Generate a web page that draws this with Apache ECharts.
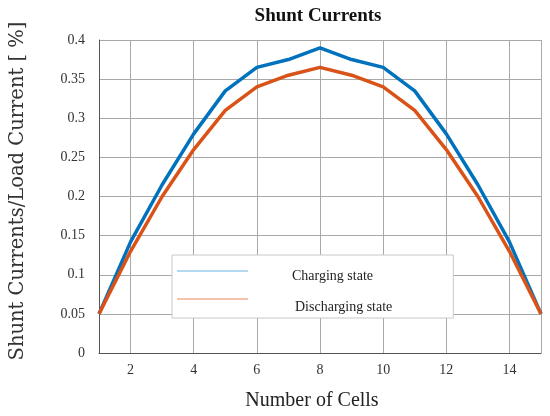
<!DOCTYPE html>
<html>
<head>
<meta charset="utf-8">
<script src="https://cdn.jsdelivr.net/npm/echarts@6/dist/echarts.min.js"></script>
<style>
  html, body { margin: 0; padding: 0; background: #fff; }
  #mainContent { width: 550px; height: 416px; }
</style>
</head>
<body>
<div id="mainContent"></div>
<script>
// data
var cells = ['1', '2', '3', '4', '5', '6', '7', '8', '9', '10', '11', '12', '13', '14', '15'];
var charging = [0.05, 0.142, 0.215, 0.28, 0.335, 0.365, 0.375, 0.39, 0.375, 0.365, 0.335, 0.28, 0.215, 0.142, 0.05];
var discharging = [0.05, 0.13, 0.2, 0.26, 0.31, 0.34, 0.355, 0.365, 0.355, 0.34, 0.31, 0.26, 0.2, 0.13, 0.05];
var yTicks = [0, 0.05, 0.1, 0.15, 0.2, 0.25, 0.3, 0.35, 0.4];

var serif = '"Liberation Serif", "DejaVu Serif", serif';

var myChart = echarts.init(document.getElementById('mainContent'));

// show label/grid only on even cells, plus the right border at 15
function evenCell(index, value) {
    return (+value) % 2 === 0;
}

// legend line sits a bit above its text, as in the original
var iconHigh = 'path://M0,0 M0,3L71,3L71,5L0,5Z M0,18';
var iconLow = 'path://M0,0L71,0L71,2L0,2Z M0,18';

option = {
    animation: false,
    title: {
        text: 'Shunt Currents',
        left: 313,
        top: 2,
        textAlign: 'center',
        textStyle: { fontFamily: serif, fontSize: 19, fontWeight: 'bold', color: '#111' }
    },
    grid: { left: 98, right: 9, top: 40, bottom: 61 },
    legend: {
        orient: 'vertical',
        left: 172,
        top: 255,
        padding: [12, 61, 2, 5],
        itemWidth: 71,
        itemHeight: 18,
        itemGap: 13,
        backgroundColor: '#fff',
        borderColor: '#c8c8c8',
        borderWidth: 1,
        borderRadius: 0,
        textStyle: { fontFamily: serif, fontSize: 14, color: '#222', padding: [0, 0, 0, 39] },
        data: [
            { name: 'Charging state', icon: iconHigh, itemStyle: { color: '#b3d9ee' } },
            { name: 'Discharging state', icon: iconLow, itemStyle: { color: '#f5c2ae' }, textStyle: { padding: [0, 0, 0, 42] } }
        ]
    },
    xAxis: {
        type: 'category',
        data: cells,
        boundaryGap: false,
        name: 'Number of Cells',
        nameLocation: 'middle',
        nameGap: 38,
        nameTextStyle: { fontFamily: serif, fontSize: 20, color: '#222', padding: [0, 16, 0, 0] },
        axisLine: { lineStyle: { color: '#555', width: 1 } },
        axisTick: { show: false },
        axisLabel: { interval: evenCell, fontFamily: serif, fontSize: 14, color: '#333', margin: 10 },
        splitLine: {
            show: true,
            interval: function (index, value) { return (+value) % 2 === 0 || value === '15'; },
            lineStyle: { color: '#a8a8a8', width: 1 }
        }
    },
    yAxis: {
        type: 'value',
        min: yTicks[0],
        max: yTicks[yTicks.length - 1],
        interval: 0.05,
        name: 'Shunt Currents/Load Current [ %]',
        nameLocation: 'middle',
        nameGap: 71,
        nameTextStyle: { fontFamily: '"DejaVu Serif", serif', fontSize: 19.5, color: '#333', padding: [0, 0, 0, 11] },
        axisLine: { show: true, lineStyle: { color: '#555', width: 1 } },
        axisTick: { show: false },
        axisLabel: { fontFamily: serif, fontSize: 14, color: '#333', margin: 14 },
        splitLine: { show: true, lineStyle: { color: '#a8a8a8', width: 1 } }
    },
    series: [
        {
            name: 'Charging state',
            type: 'line',
            data: charging,
            showSymbol: false,
            z: 3,
            lineStyle: { color: '#0072BD', width: 3.5 },
            itemStyle: { color: '#0072BD' }
        },
        {
            name: 'Discharging state',
            type: 'line',
            data: discharging,
            showSymbol: false,
            z: 4,
            lineStyle: { color: '#D95319', width: 3.5 },
            itemStyle: { color: '#D95319' }
        }
    ]
};

myChart.setOption(option);
</script>
</body>
</html>
